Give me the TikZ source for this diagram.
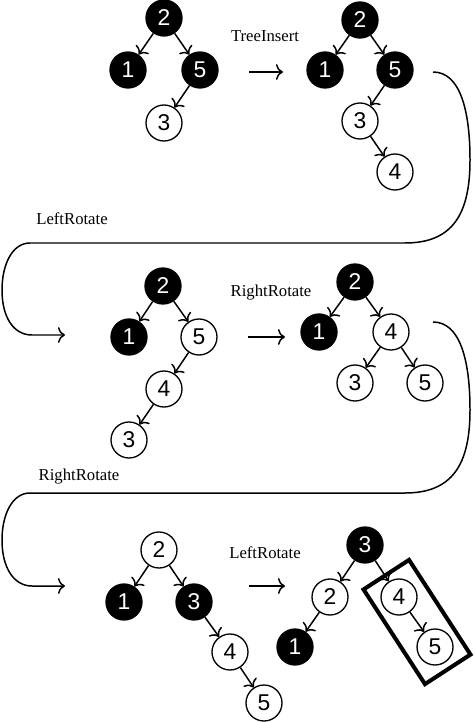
\documentclass[tikz,border=0pt]{standalone}
\usepackage{fontspec}
\setmainfont{Liberation Serif}
\newfontfamily\digitfont{Liberation Sans}
\usetikzlibrary{arrows.meta,fit}

\begin{document}
\begin{tikzpicture}[x=0.02cm, y=-0.02cm]
\tikzstyle{blk} = [circle, draw, line width=0.75pt, fill=black, text=white, minimum size=0.72cm, inner sep=0pt, font=\digitfont\fontsize{13}{13}\selectfont]
\tikzstyle{wht} = [blk, fill=white, text=black]
\tikzstyle{edge} = [draw, line width=0.85pt, -{To[length=4pt,width=9pt]}]
\tikzstyle{lbl} = [font=\fontsize{9.5}{11}\selectfont]
\useasboundingbox (0,0) rectangle (474,722);

% TreeInsert
\node[blk] (a_2) at (164,18) {2};
\node[blk] (a_1) at (128,70) {1};
\node[blk] (a_5) at (200,70) {5};
\node[wht] (a_3) at (164,123) {3};
\path[edge] (a_2) -- (a_1);
\path[edge] (a_2) -- (a_5);
\path[edge] (a_5) -- (a_3);

\node[lbl] (l_1) at (265,36) {TreeInsert};
\coordinate (s1_a) at (249,72);
\coordinate (s1_b) at (283,72);
\path[edge] (s1_a) -- (s1_b);

\node[blk] (b_2) at (360,20) {2};
\node[blk] (b_1) at (325,70) {1};
\node[blk] (b_5) at (395,70) {5};
\node[wht] (b_3) at (360,121) {3};
\node[wht] (b_4) at (395,172) {4};
\path[edge] (b_2) -- (b_1);
\path[edge] (b_2) -- (b_5);
\path[edge] (b_5) -- (b_3);
\path[edge] (b_3) -- (b_4);

% LeftRotate
\node[lbl] (l_2) at (72,219) {LeftRotate};
\coordinate (u_s) at (433,72);
\coordinate (u_e) at (65,335);
\path[edge] (u_s) .. controls (460,72) and (470,110) .. (470,160)
  .. controls (470,215) and (452,243) .. (405,243) -- (30,243)
  .. controls (12,243) and (2,265) .. (2,290)
  .. controls (2,318) and (14,335) .. (32,335) -- (u_e);

\node[blk] (c_2) at (163,286) {2};
\node[blk] (c_1) at (129,337) {1};
\node[wht] (c_5) at (199,337) {5};
\node[wht] (c_4) at (164,389) {4};
\node[wht] (c_3) at (129,440) {3};
\path[edge] (c_2) -- (c_1);
\path[edge] (c_2) -- (c_5);
\path[edge] (c_5) -- (c_4);
\path[edge] (c_4) -- (c_3);

% RightRotate
\node[lbl] (l_3) at (271,293) {RightRotate};
\coordinate (s2_a) at (248,337);
\coordinate (s2_b) at (285,337);
\path[edge] (s2_a) -- (s2_b);

\node[blk] (d_2) at (355,282) {2};
\node[blk] (d_1) at (319,332) {1};
\node[wht] (d_4) at (391,332) {4};
\node[wht] (d_3) at (355,383) {3};
\node[wht] (d_5) at (425,383) {5};
\path[edge] (d_2) -- (d_1);
\path[edge] (d_2) -- (d_4);
\path[edge] (d_4) -- (d_3);
\path[edge] (d_4) -- (d_5);

% RightRotate
\node[lbl] (l_4) at (79,477) {RightRotate};
\coordinate (w_s) at (433,322);
\coordinate (w_e) at (65,586);
\path[edge] (w_s) .. controls (460,322) and (470,360) .. (470,410)
  .. controls (470,465) and (452,493) .. (405,493) -- (30,493)
  .. controls (12,493) and (2,515) .. (2,540)
  .. controls (2,568) and (14,586) .. (32,586) -- (w_e);

\node[wht] (e_2) at (159,550) {2};
\node[blk] (e_1) at (124,602) {1};
\node[blk] (e_3) at (194,602) {3};
\node[wht] (e_4) at (230,652) {4};
\node[wht] (e_5) at (264,703) {5};
\path[edge] (e_2) -- (e_1);
\path[edge] (e_2) -- (e_3);
\path[edge] (e_3) -- (e_4);
\path[edge] (e_4) -- (e_5);

% LeftRotate
\node[lbl] (l_5) at (265,553) {LeftRotate};
\coordinate (s3_a) at (249,586);
\coordinate (s3_b) at (285,586);
\path[edge] (s3_a) -- (s3_b);

\node[blk] (f_3) at (365,545) {3};
\node[wht] (f_2) at (330,597) {2};
\node[wht] (f_4) at (399,597) {4};
\node[blk] (f_1) at (295,647) {1};
\node[wht] (f_5) at (435,647) {5};
\path[edge] (f_3) -- (f_2);
\path[edge] (f_3) -- (f_4);
\path[edge] (f_2) -- (f_1);
\path[edge] (f_4) -- (f_5);
\node[draw, line width=2.3pt, rotate fit=-57, fit=(f_4)(f_5), inner sep=0.2cm] (f_box) {};
\end{tikzpicture}
\end{document}
